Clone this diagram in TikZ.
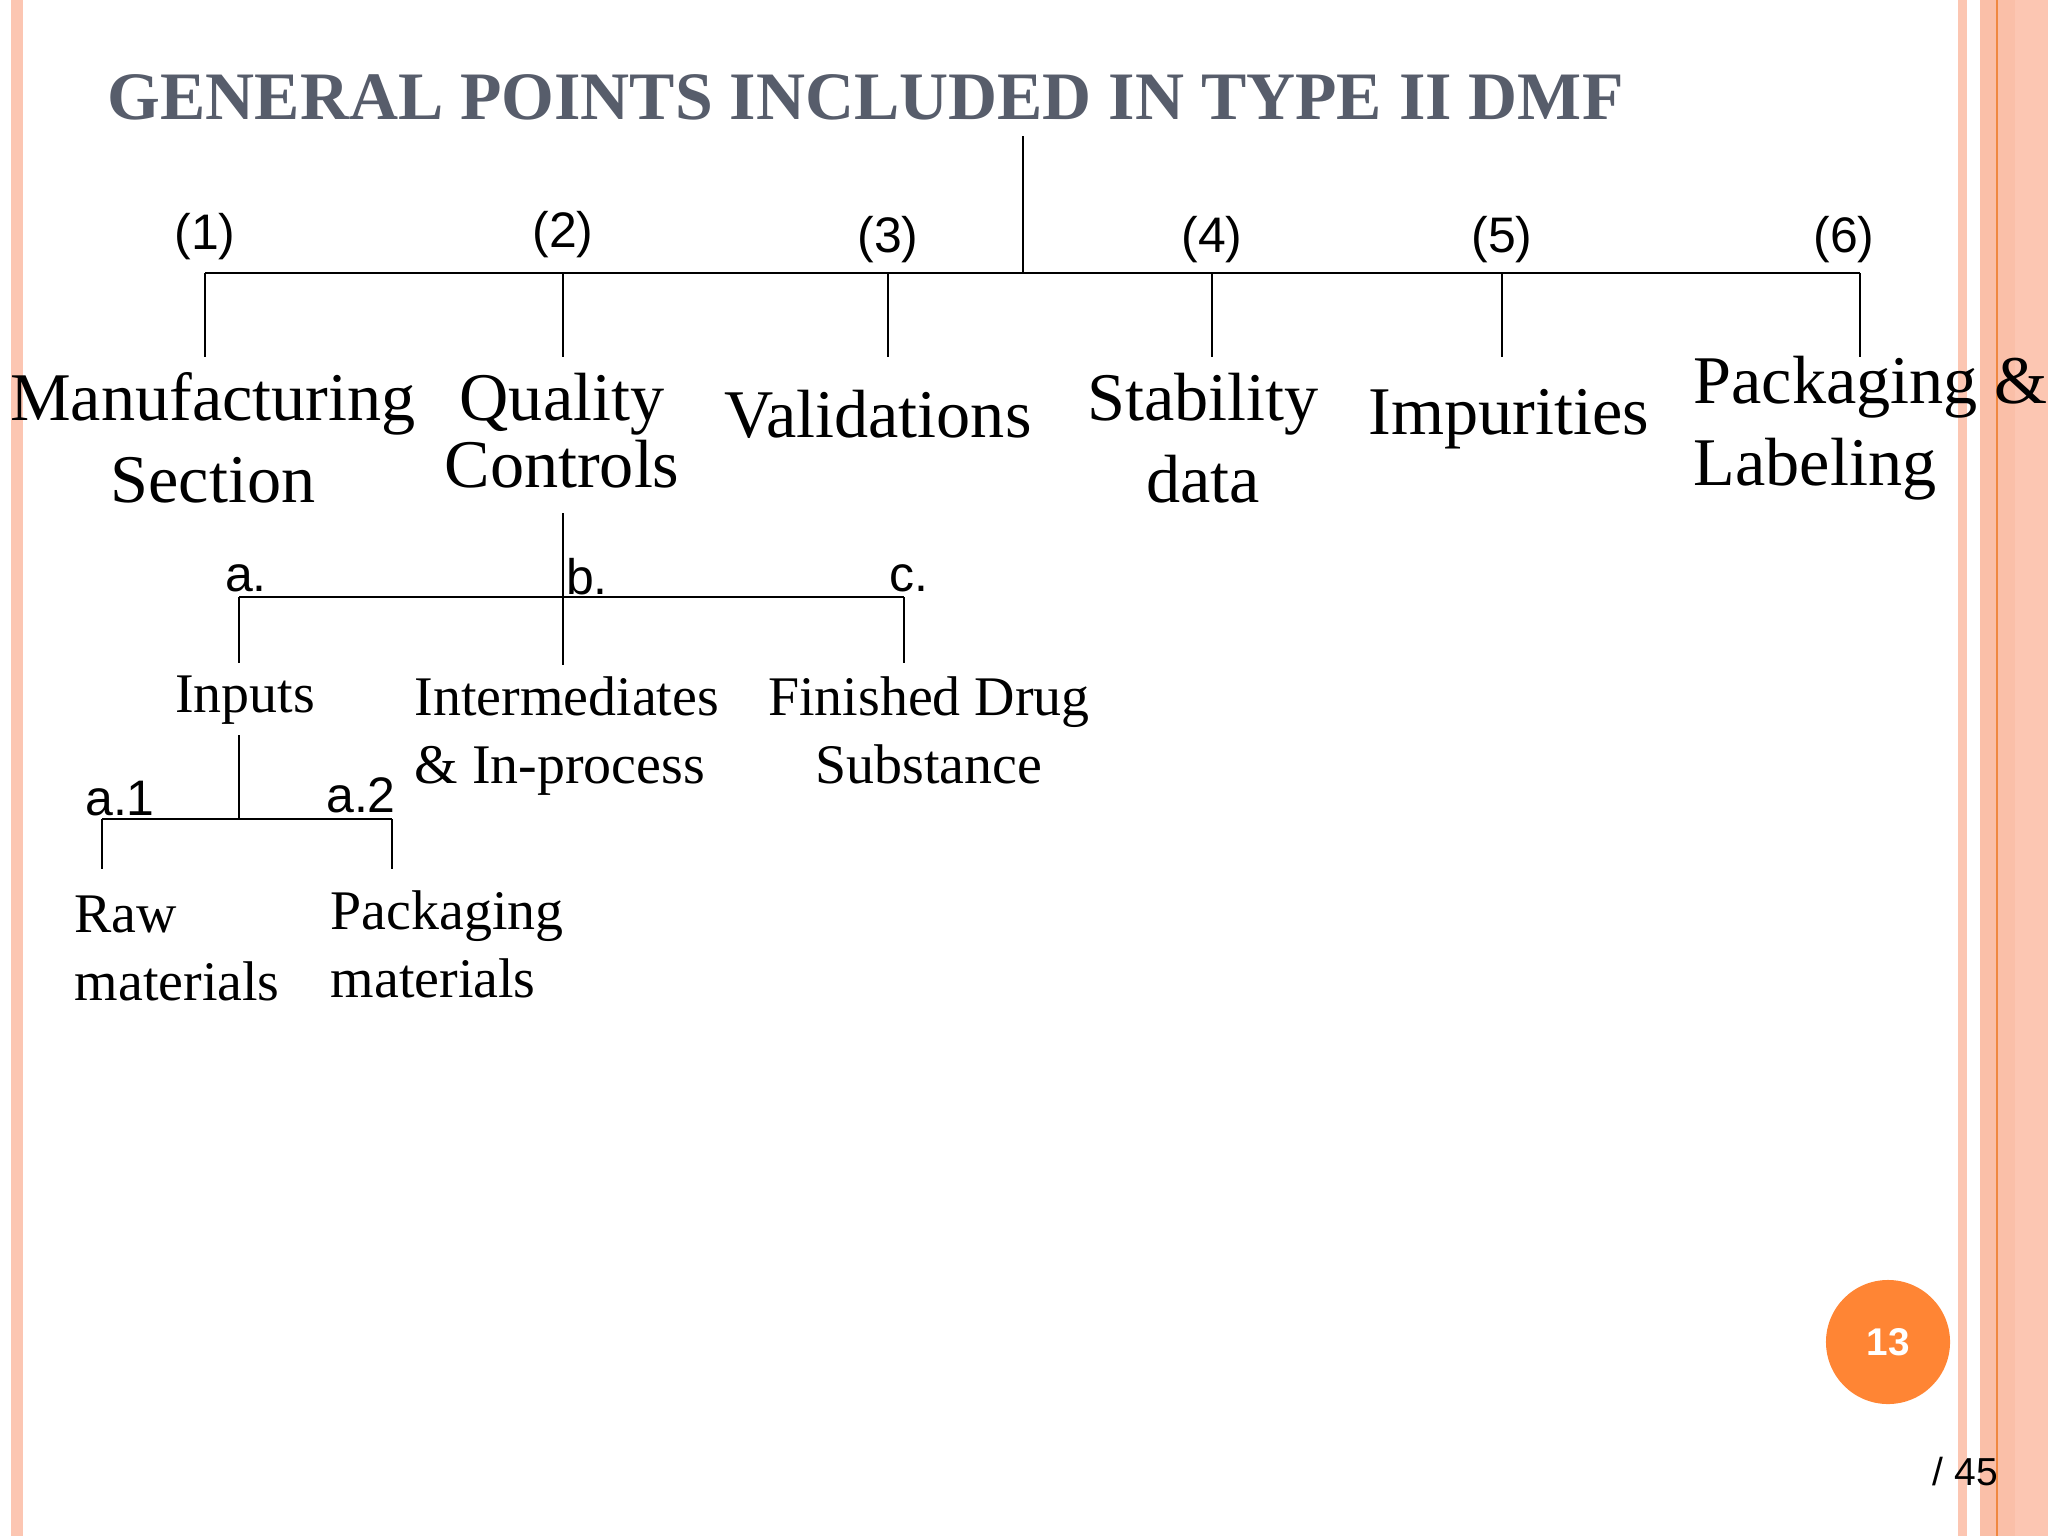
\documentclass[tikz,border=0pt]{standalone}
\usepackage{fontspec}
\setmainfont{Liberation Serif}
\setsansfont{Liberation Sans}
\definecolor{stripe}{HTML}{FCC6B2}
\definecolor{stripedark}{HTML}{FABFA8}
\definecolor{stripeline}{HTML}{F08840}
\definecolor{titlegray}{HTML}{575D6B}
\definecolor{badge}{HTML}{FF8534}
\tikzset{
  big/.style={font=\fontsize{19.4}{23.3}\selectfont, inner sep=0pt, anchor=base},
  small/.style={font=\fontsize{15.9}{19.2}\selectfont, inner sep=0pt, anchor=base},
  num/.style={font=\sffamily\fontsize{14.2}{17}\selectfont, inner sep=0pt, anchor=base},
  link/.style={line width=0.6pt},
}
\begin{document}
\begin{tikzpicture}[x=0.01cm,y=-0.01cm]
\useasboundingbox (0,0) rectangle (2048,1536);
% side stripes
\fill[stripe] (11,0) rectangle (23,1536);
\fill[stripe] (1958,0) rectangle (1967,1536);
\fill[stripedark] (1980,0) rectangle (2015,1536);
\fill[stripe] (2015,0) rectangle (2048,1536);
\draw[stripeline, line width=0.5pt] (1997,0) -- (1997,1536);
% title
\node[name=title, anchor=base west, inner sep=0pt, text=titlegray, font=\bfseries\fontsize{19.3}{23}\selectfont] at (107,119){GENERAL POINTS INCLUDED IN TYPE II DMF};
% first level (multi-line nodes sit on their last line)
\def\ya{273}
\def\yb{357}
\coordinate (top) at (1023,136);
\coordinate (hub) at (1023,\ya);
\coordinate (b1) at (205,\ya);  \coordinate (e1) at (205,\yb);
\coordinate (b2) at (563,\ya);  \coordinate (e2) at (563,\yb);
\coordinate (b3) at (888,\ya);  \coordinate (e3) at (888,\yb);
\coordinate (b4) at (1212,\ya); \coordinate (e4) at (1212,\yb);
\coordinate (b5) at (1502,\ya); \coordinate (e5) at (1502,\yb);
\coordinate (b6) at (1860,\ya); \coordinate (e6) at (1860,\yb);
\node[num,name=n1] at (205,249){(1)};
\node[num,name=n2] at (563,247){(2)};
\node[num,name=n3] at (888,252){(3)};
\node[num,name=n4] at (1212,252){(4)};
\node[num,name=n5] at (1502,252){(5)};
\node[num,name=n6] at (1844,252){(6)};
\node[big,name=manuf,align=center] at (213,502){Manufacturing\\Section};
\node[big,name=qc,align=center] at (562,487){Quality\\[-4.3pt]Controls};
\node[big,name=valid] at (878,437){Validations};
\node[big,name=stab,align=center] at (1203,502){Stability\\data};
\node[big,name=impur] at (1509,434){Impurities};
\node[big,name=packlab,align=left,anchor=base west] at (1693,485){Packaging \&\\Labeling};
\draw[link] (top)--(hub);
\draw[link] (b1)--(b6);
\draw[link] (b1)--(e1);
\draw[link] (b2)--(e2);
\draw[link] (b3)--(e3);
\draw[link] (b4)--(e4);
\draw[link] (b5)--(e5);
\draw[link] (b6)--(e6);
% quality controls branch
\def\yc{597}
\def\yd{663}
\coordinate (qtop) at (563,513);
\coordinate (qa) at (239,\yc);  \coordinate (qae) at (239,\yd);
\coordinate (qb) at (563,\yc);  \coordinate (qbe) at (563,665);
\coordinate (qc) at (904,\yc);  \coordinate (qce) at (904,\yd);
\node[num,name=la] at (246,591){a.};
\node[num,name=lb] at (587,594){b.};
\node[num,name=lc] at (909,591){c.};
\node[small,name=inputs] at (245,712){Inputs};
\node[small,name=inter,align=left,anchor=base west] at (414,783){Intermediates\\\& In-process};
\node[small,name=finished,align=center] at (929,783){Finished Drug\\Substance};
\draw[link] (qtop)--(qbe);
\draw[link] (qa)--(qc);
\draw[link] (qa)--(qae);
\draw[link] (qc)--(qce);
% inputs branch
\def\ye{819}
\def\yf{869}
\coordinate (itop) at (239,735);
\coordinate (ihub) at (239,\ye);
\coordinate (i1) at (102,\ye); \coordinate (i1e) at (102,\yf);
\coordinate (i2) at (392,\ye); \coordinate (i2e) at (392,\yf);
\node[num,name=la1] at (120,815){a.1};
\node[num,name=la2] at (361,812){a.2};
\node[small,name=raw,align=left,anchor=base west] at (74,1000){Raw\\materials};
\node[small,name=packmat,align=left,anchor=base west] at (330,997){Packaging\\materials};
\draw[link] (itop)--(ihub);
\draw[link] (i1)--(i2);
\draw[link] (i1)--(i1e);
\draw[link] (i2)--(i2e);
% page number
\node[name=page, circle, fill=badge, minimum size=1.24cm, inner sep=0pt, text=white, font=\sffamily\bfseries\fontsize{11}{13}\selectfont] at (1888,1342){13};
\node[name=total, anchor=base west, inner sep=0pt, font=\sffamily\fontsize{11.1}{13}\selectfont] at (1932,1485){/ 45};
\end{tikzpicture}
\end{document}
